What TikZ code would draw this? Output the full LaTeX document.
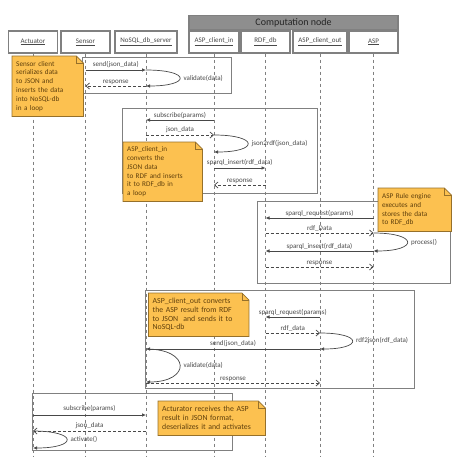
\documentclass[tikz,border=0pt]{standalone}
\usepackage{fontspec}
\setmainfont{Carlito}
\definecolor{linegray}{RGB}{72,72,72}
\definecolor{framegray}{RGB}{128,128,128}
\definecolor{headgray}{RGB}{142,142,142}
\definecolor{noteyellow}{RGB}{252,193,80}
\definecolor{notebrown}{RGB}{150,112,42}
\definecolor{notetext}{RGB}{96,64,12}
\usetikzlibrary{arrows.meta,positioning,backgrounds}

\begin{document}
\begin{tikzpicture}[x=1pt, y=-1pt,
      head/.style={draw=framegray, line width=1.1pt, fill=white, inner sep=0pt,
                   minimum height=22pt, text=linegray, font=\fontsize{7}{8}\selectfont},
      group/.style={draw=framegray, line width=1.1pt, fill=headgray, inner sep=0pt,
                    minimum height=14pt, text=black!85, font=\fontsize{10}{12}\selectfont},
      life/.style={framegray, line width=0.8pt, dash pattern=on 3.5pt off 2.5pt},
      frame/.style={draw=framegray, line width=0.8pt},
      msg/.style={-{Latex[length=4pt,width=3.6pt]}, linegray, line width=0.7pt},
      reply/.style={-{Straight Barb[length=3.5pt,width=6pt]}, linegray, line width=0.7pt,
                    dash pattern=on 3pt off 2pt},
      lbl/.style={text=linegray, inner sep=1.5pt, font=\fontsize{7}{8}\selectfont},
      note/.style={anchor=north west, align=left, inner xsep=4pt, inner ysep=0pt,
                   text=notetext, font=\fontsize{7.2}{8.8}\selectfont},
      notebg/.style={fill=noteyellow, draw=notebrown, line width=0.7pt}
    ]
    \useasboundingbox (0,0) rectangle (474,459);
    % HEADER: participants
    \node[head, minimum width=49pt] (act) at (33,42) {\underline{Actuator}};
    \node[head, minimum width=49pt] (sen) at (85.5,42) {\underline{Sensor}};
    \node[head, minimum width=62pt] (nosql) at (146,42) {\underline{NoSQL\_db\_server}};
    \node[head, minimum width=50pt] (aspin) at (214,42) {\underline{ASP\_client\_in}};
    \node[head, minimum width=49pt] (rdf) at (265.5,42) {\underline{RDF\_db}};
    \node[head, minimum width=54pt] (aspout) at (320,42) {\underline{ASP\_client\_out}};
    \node[head, minimum width=49pt] (asp) at (373.5,42) {\underline{ASP}};
    \node[group, minimum width=209pt, above=0pt of aspin.north west, anchor=south west] (comp) {Computation node};
    % lifelines and loop frames
    \begin{scope}[on background layer]
      \foreach \n in {act,sen,nosql,aspin,rdf,aspout,asp}
        \draw[life] (\n.south) -- (\n.south |- 0,456);
      \draw[frame] (82,57) rectangle (231,93);
      \draw[frame] (122.5,108) rectangle (317,193);
      \draw[frame] (257,201.5) rectangle (450,283);
      \draw[frame] (145,290) rectangle (414,388);
      \draw[frame] (32,393) rectangle (232,450);
    \end{scope}
    % NOTES
    \node[note, text width=63pt, minimum height=60pt] (n1) at (12,56) {%
      Sensor client\\ serializes data\\ to JSON and\\ inserts the data\\ into NoSQL-db\\ in a loop};
    \node[note, text width=71pt, minimum height=59pt] (n2) at (123,142) {%
      ASP\_client\_in\\ converts the\\ JSON data\\ to RDF and inserts\\ it to RDF\_db in\\ a loop};
    \node[note, text width=65pt, minimum height=43pt] (n3) at (378,188) {%
      ASP Rule engine\\ executes and\\ stores the data\\ to RDF\_db};
    \node[note, text width=92pt, minimum height=43pt, font=\fontsize{7.8}{8.7}\selectfont] (n4) at (148.5,293) {%
      ASP\_client\_out converts\\ the ASP result from RDF\\ to JSON~ and sends it to\\ NoSQL-db};
    \node[note, text width=99pt, minimum height=34pt, font=\fontsize{7.8}{9}\selectfont] (n5) at (158,401) {%
      Acturator receives the ASP\\ result in JSON format,\\ deserializes it and activates};
    \begin{scope}[on background layer]
      \foreach \n in {n1,n2,n3,n4,n5} {
        \draw[notebg] (\n.south west) |- ([xshift=-7pt]\n.north east)
          -- ([yshift=-7pt]\n.north east) -- (\n.south east) -- cycle;
        \draw[notebg, fill=none] ([xshift=-7pt]\n.north east)
          |- ([yshift=-7pt]\n.north east);
      }
    \end{scope}
    % loop 1: sensor writes to NoSQL-db
    \draw[msg] (sen |- 0,70) -- node[lbl, above] {send(json\_data)} (nosql |- 0,70);
    \draw[msg] (nosql |- 0,70) .. controls +(45,0) and +(45,0) .. node[lbl, right, xshift=2pt] {validate(data)} (nosql |- 0,86);
    \draw[reply] (nosql |- 0,86) -- node[lbl, above] {response} (sen |- 0,86);
    % loop 2: ASP_client_in fills RDF_db
    \draw[msg] (aspin |- 0,120) -- node[lbl, above] {subscribe(params)} (nosql |- 0,120);
    \draw[reply] (nosql |- 0,135) -- node[lbl, above] {json\_data} (aspin |- 0,135);
    \draw[msg] (aspin |- 0,135) .. controls +(45,0) and +(45,0) .. node[lbl, right, xshift=2pt] {json2rdf(json\_data)} (aspin |- 0,152);
    \draw[msg] (aspin |- 0,168) -- node[lbl, above, yshift=1pt] {sparql\_insert(rdf\_data)} (rdf |- 0,168);
    \draw[reply] (rdf |- 0,185) -- node[lbl, above] {response} (aspin |- 0,185);
    % loop 3: ASP rule engine
    \draw[msg] (asp |- 0,218) -- node[lbl, above] {sparql\_request(params)} (rdf |- 0,218);
    \draw[reply] (rdf |- 0,233) -- node[lbl, above] {rdf\_Data} (asp |- 0,233);
    \draw[msg] (asp |- 0,233) .. controls +(45,0) and +(45,0) .. node[lbl, right, xshift=2pt] {process()} (asp |- 0,251);
    \draw[msg] (asp |- 0,251) -- node[lbl, above] {sparql\_insert(rdf\_data)} (rdf |- 0,251);
    \draw[reply] (rdf |- 0,267) -- node[lbl, above] {response} (asp |- 0,267);
    % loop 4: ASP_client_out sends result back
    \draw[msg] (aspout |- 0,317) -- node[lbl, above] {sparql\_request(params)} (rdf |- 0,317);
    \draw[reply] (rdf |- 0,333) -- node[lbl, above] {rdf\_data} (aspout |- 0,333);
    \draw[msg] (aspout |- 0,333) .. controls +(43,0) and +(43,0) .. node[lbl, right, xshift=2pt] {rdf2json(rdf\_data)} (aspout |- 0,349);
    \draw[msg] (aspout |- 0,349) -- node[lbl, above] {send(json\_data)} (nosql |- 0,349);
    \draw[msg] (nosql |- 0,349) .. controls +(45,0) and +(45,0) .. node[lbl, right, xshift=2pt] {validate(data)} (nosql |- 0,382);
    \draw[reply] (nosql |- 0,383) -- node[lbl, above] {response} (aspout |- 0,383);
    % loop 5: actuator
    \draw[msg] (act |- 0,415) -- node[lbl, above, yshift=2pt] {subscribe(params)} (nosql |- 0,415);
    \draw[reply] (nosql |- 0,431) -- node[lbl, above] {json\_data} (act |- 0,431);
    \draw[msg] (act |- 0,431) .. controls +(45,0) and +(45,0) .. node[lbl, right, xshift=2pt] {activate()} (act |- 0,448);
  \end{tikzpicture}
\end{document}
